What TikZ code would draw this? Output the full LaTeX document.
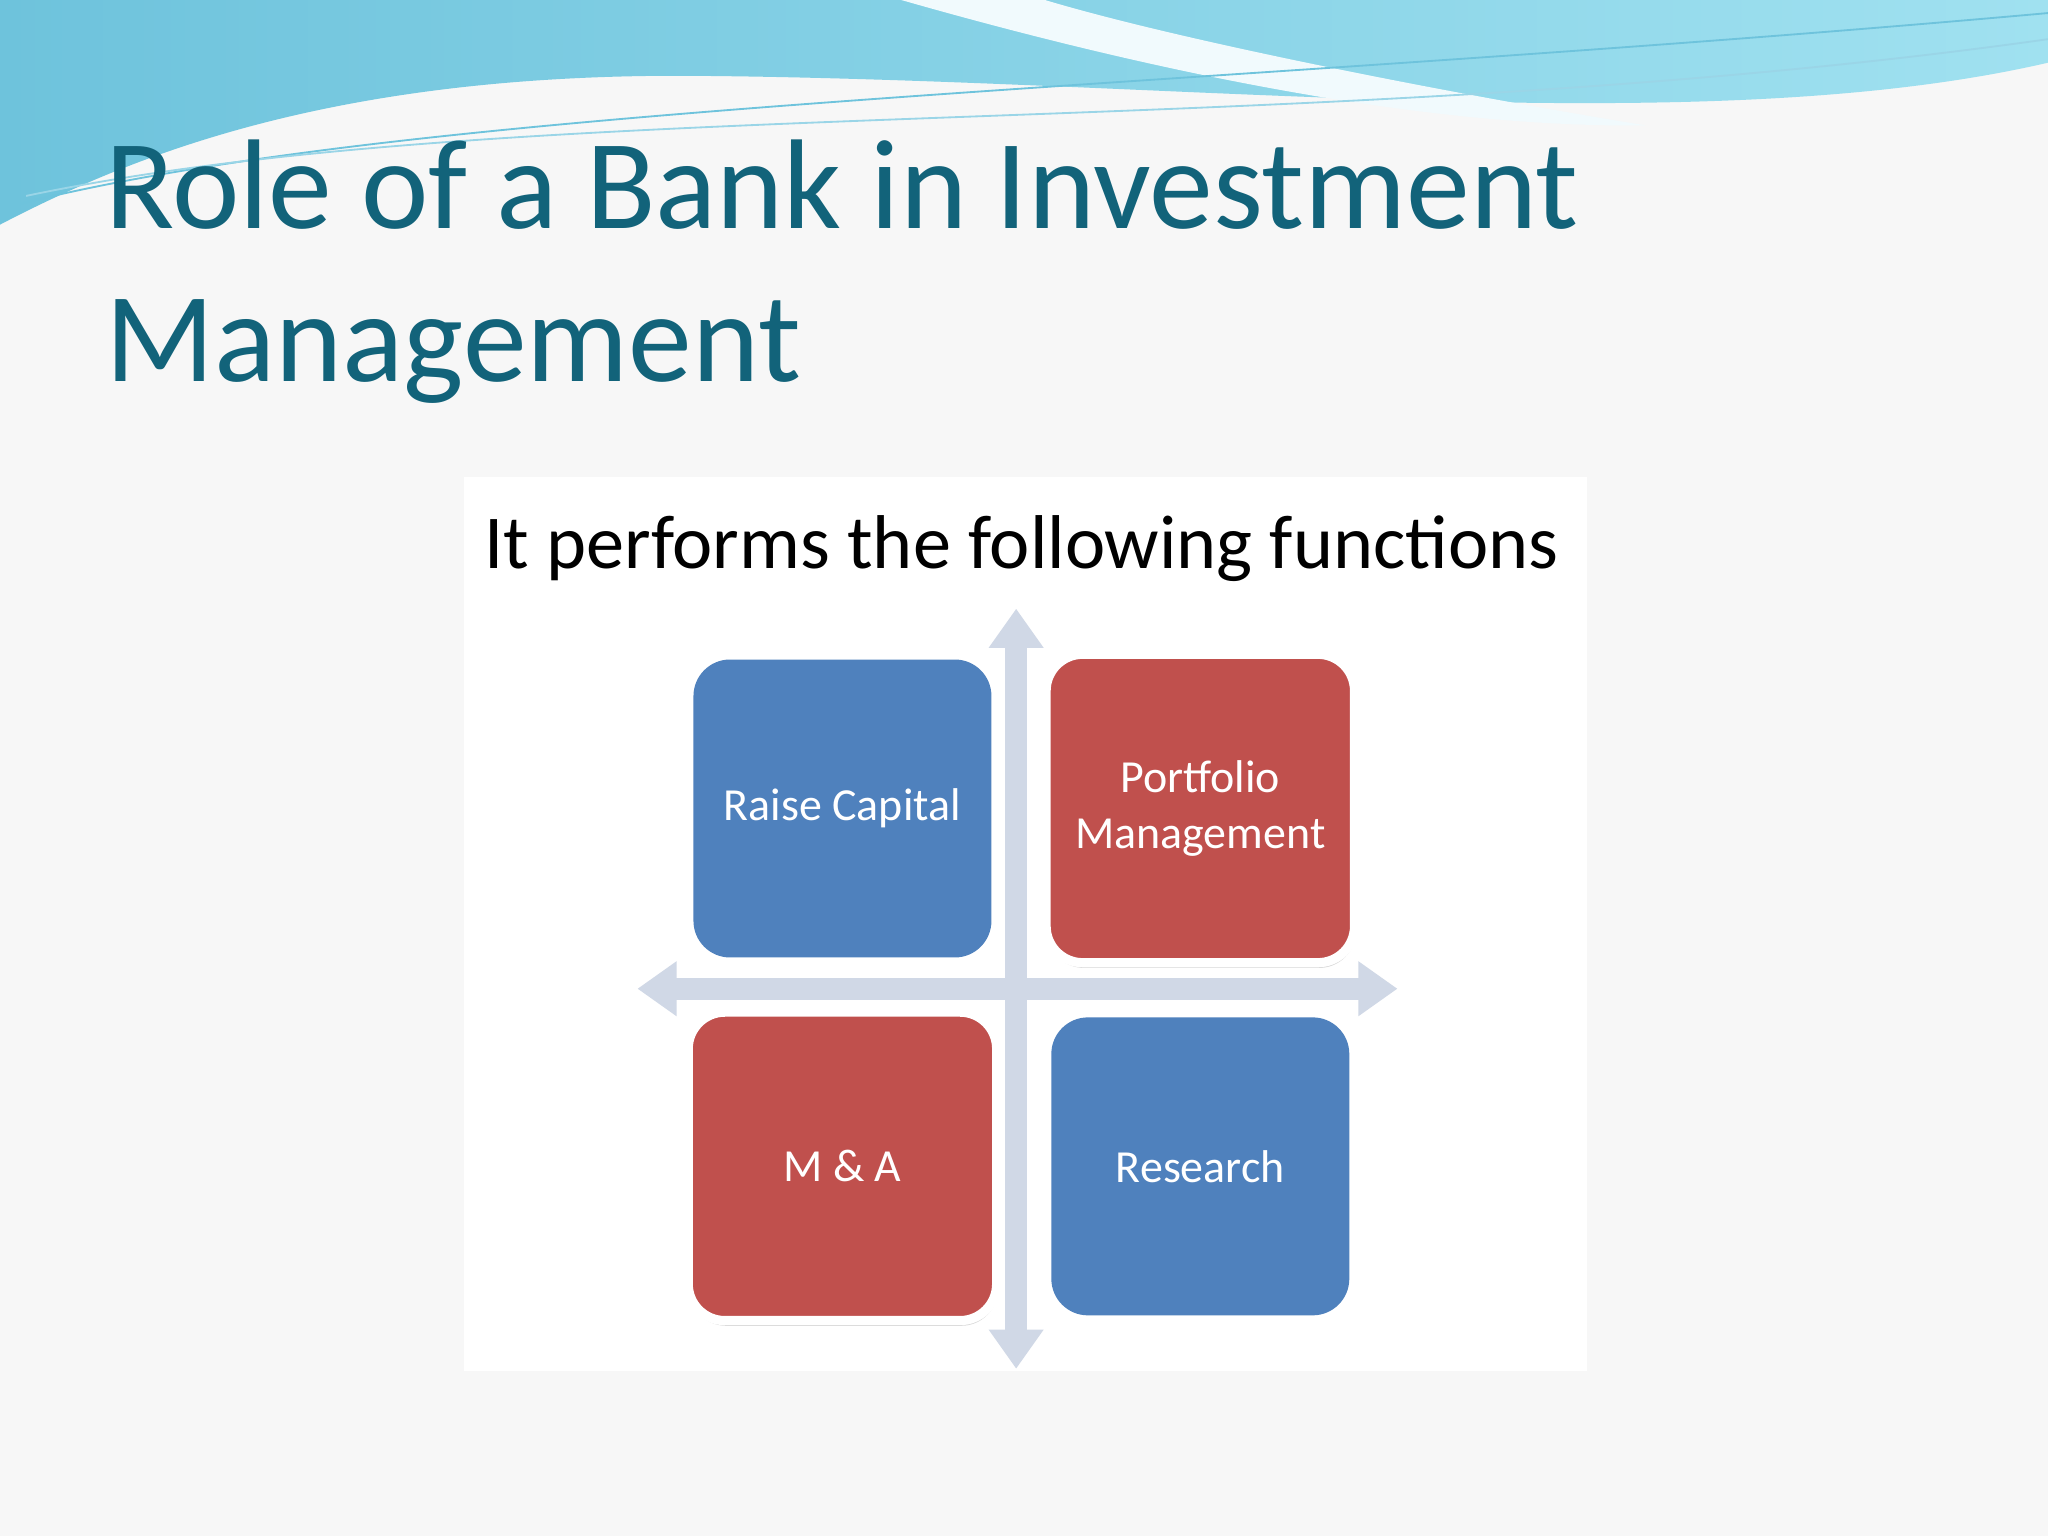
\documentclass[tikz,border=0pt]{standalone}
\usepackage{fontspec}
\setmainfont{Carlito}
\usetikzlibrary{arrows.meta,positioning,shadows}
\definecolor{titleteal}{RGB}{18,99,122}
\definecolor{boxblue}{RGB}{79,129,189}
\definecolor{boxred}{RGB}{192,80,77}
\definecolor{crossgray}{RGB}{208,216,230}
\definecolor{wavedark}{RGB}{110,195,220}
\definecolor{wavelight}{RGB}{160,225,240}
\tikzset{
  quad/.style={rounded corners=0.28cm, minimum width=2.28cm, minimum height=2.28cm,
    text=white, align=center, font=\fontsize{10}{12}\selectfont},
  framed/.style={draw=white, line width=2pt, minimum width=2.36cm, minimum height=2.36cm,
    drop shadow={opacity=0.3, shadow xshift=0.01cm, shadow yshift=-0.04cm}},
  crossarrow/.style={crossgray, line width=0.17cm, -{Triangle[width=0.4cm,length=0.3cm]}},
}
\begin{document}
\begin{tikzpicture}[x=0.01cm,y=-0.01cm]
\useasboundingbox (0,0) rectangle (1568,1176);
\fill[black!3] (0,0) rectangle (1568,1176);
% wave at the top
\shade[left color=wavedark, right color=wavelight]
  (0,0) -- (1568,0) -- (1568,48) .. controls (1300,110) and (900,60) .. (520,58)
  .. controls (250,58) and (100,120) .. (0,172) -- cycle;
\fill[white!85!wavelight] (690,0) .. controls (900,60) and (1100,98) .. (1260,96)
  .. controls (1100,70) and (900,30) .. (800,0) -- cycle;
\draw[wavedark, thin] (0,160) .. controls (300,80) and (900,70) .. (1568,10);
\draw[wavedark!70!white, thin] (20,150) .. controls (400,70) and (1000,110) .. (1568,30);
% title
\node[anchor=base west, inner sep=0, text=titleteal, font=\fontsize{27.8}{34}\selectfont] (title1) at (80,175) {Role of a Bank in Investment};
\node[anchor=base west, inner sep=0, text=titleteal, font=\fontsize{27.8}{34}\selectfont] (title2) at (80,292) {Management};
% panel
\fill[white] (355,365) rectangle (1215,1050);
\node[font=\fontsize{16.6}{20}\selectfont] (sub) at (782,420) {It performs the following functions};
% cross
\coordinate (ctr) at (778,757);
\draw[crossarrow] (ctr) -- (778,466);
\draw[crossarrow] (ctr) -- (778,1048);
\draw[crossarrow] (ctr) -- (488,757);
\draw[crossarrow] (ctr) -- (1070,757);
% quadrants
\node[quad, fill=boxblue] (raise) at (645,619) {Raise Capital};
\node[quad, fill=boxred, framed] (portfolio) at (919,619) {Portfolio\\Management};
\node[quad, fill=boxred, framed] (ma) at (645,893) {M \& A};
\node[quad, fill=boxblue] (research) at (919,893) {Research};
\end{tikzpicture}
\end{document}
